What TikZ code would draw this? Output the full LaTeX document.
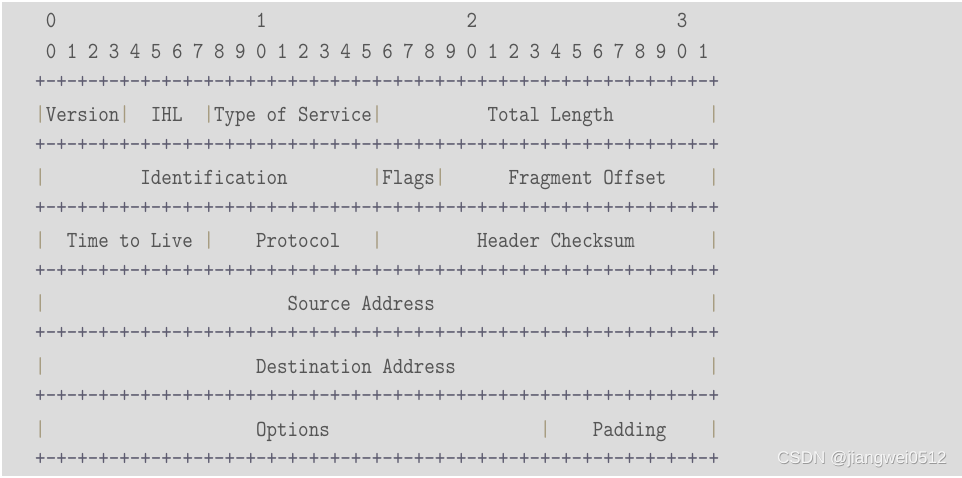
\documentclass[tikz,border=0pt]{standalone}
\usepackage{fontspec}
\newfontfamily\asc[Extension=.otf, FakeStretch=0.8712]{lmmono10-regular}
\newfontfamily\wmfont{Liberation Sans}
\definecolor{bg}{HTML}{DCDCDC}
\definecolor{ink}{HTML}{555555}
\definecolor{pipeink}{HTML}{A59A7E}
\definecolor{plusink}{HTML}{5E5C70}
\definecolor{wmshadow}{HTML}{9A9A9A}
\definecolor{wmfill}{HTML}{F6F6F6}
\tikzset{
  txt/.style={inner sep=0pt, outer sep=0pt, anchor=base west, text=ink, font=\asc\fontsize{23}{23}\selectfont},
  pipe/.style={txt, text=pipeink},
  plusline/.style={inner sep=0pt, outer sep=0pt, anchor=west, text=plusink, font=\asc\fontsize{23}{23}\selectfont},
}
\newcommand\frag[5][txt]{\node[#1] (#4) at ({35.24+10.52*#3}, {27.3+31.45*#2}) {#5};}
\newcommand\pipeat[3]{\node[pipe] (#3) at ({35.24+10.52*#2}, {27.3+31.45*#1}) {|};}
\newcommand\plusrow[2]{\node[plusline] (#2) at (35.24, {19.3+31.45*#1}) {+-+-+-+-+-+-+-+-+-+-+-+-+-+-+-+-+-+-+-+-+-+-+-+-+-+-+-+-+-+-+-+-+};}
\begin{document}
\begin{tikzpicture}[x=1pt, y=-1pt]
\useasboundingbox (0,0) rectangle (962,478);
\fill[white] (0,0) rectangle (962,478);
\fill[bg] (2,2) rectangle (962,476);
% bit tens
\frag{0}{1}{t0}{0}
\frag{0}{21}{t1}{1}
\frag{0}{41}{t2}{2}
\frag{0}{61}{t3}{3}
% bit units
\foreach \i in {0,...,31}{
  \pgfmathtruncatemacro\d{mod(\i,10)}
  \pgfmathtruncatemacro\c{2*\i+1}
  \node[txt] (u\i) at ({35.24+10.52*\c}, {27.3+31.45*1}) {\d};
}
% separator lines
\plusrow{2}{s1}
\plusrow{4}{s2}
\plusrow{6}{s3}
\plusrow{8}{s4}
\plusrow{10}{s5}
\plusrow{12}{s6}
\plusrow{14}{s7}
% row 1
\pipeat{3}{0}{p30}
\frag{3}{1}{ver}{Version}
\pipeat{3}{8}{p38}
\frag{3}{11}{ihl}{IHL}
\pipeat{3}{16}{p316}
\frag{3}{17}{tos}{Type of Service}
\pipeat{3}{32}{p332}
\frag{3}{43}{tl}{Total Length}
\pipeat{3}{64}{p364}
% row 2
\pipeat{5}{0}{p50}
\frag{5}{10}{idf}{Identification}
\pipeat{5}{32}{p532}
\frag{5}{33}{flg}{Flags}
\pipeat{5}{38}{p538}
\frag{5}{45}{fo}{Fragment Offset}
\pipeat{5}{64}{p564}
% row 3
\pipeat{7}{0}{p70}
\frag{7}{3}{ttl}{Time to Live}
\pipeat{7}{16}{p716}
\frag{7}{21}{prot}{Protocol}
\pipeat{7}{32}{p732}
\frag{7}{42}{hc}{Header Checksum}
\pipeat{7}{64}{p764}
% row 4
\pipeat{9}{0}{p90}
\frag{9}{24}{src}{Source Address}
\pipeat{9}{64}{p964}
% row 5
\pipeat{11}{0}{p110}
\frag{11}{21}{dst}{Destination Address}
\pipeat{11}{64}{p1164}
% row 6
\pipeat{13}{0}{p130}
\frag{13}{21}{opt}{Options}
\pipeat{13}{48}{p1348}
\frag{13}{53}{pad}{Padding}
\pipeat{13}{64}{p1364}
% watermark
\node[inner sep=0pt, anchor=base west, text=wmshadow, font=\wmfont\fontsize{17}{17}\selectfont] (wms) at (777.7,464.7) {CSDN @jiangwei0512};
\node[inner sep=0pt, anchor=base west, text=wmfill, font=\wmfont\fontsize{17}{17}\selectfont] (wm) at (777,464) {CSDN @jiangwei0512};
\end{tikzpicture}
\end{document}
